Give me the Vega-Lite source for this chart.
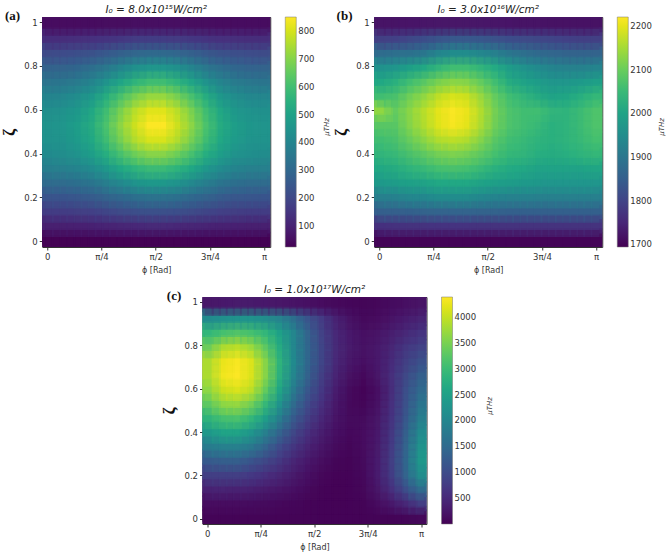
{
"$schema":"https://vega.github.io/schema/vega-lite/v6.json",
"background":"white",
"padding":{"left":0,"top":4,"right":0,"bottom":0},
"config":{"view":{"stroke":"#333","strokeWidth":1},
"axis":{"grid":false,"domain":false,"labelFont":"DejaVu Sans","labelFontSize":8.5,"labelColor":"#333","tickColor":"#333","tickSize":3,"labelPadding":2},
"axisY":{"titleFont":"Liberation Serif","titleFontSize":17,"titleFontWeight":"bold","titleColor":"#111","titlePadding":5},
"axisX":{"titleFont":"DejaVu Sans","titleFontSize":8,"titleFontWeight":"normal","titleColor":"#333","titlePadding":6},
"title":{"font":"DejaVu Sans","fontSize":10.5,"fontStyle":"italic","fontWeight":"normal","color":"#222","offset":-5},
"legend":{"labelFont":"DejaVu Sans","labelFontSize":8.5,"labelColor":"#333","titleFont":"DejaVu Sans","titleFontSize":7,"titleFontStyle":"italic","titleFontWeight":"normal","titleColor":"#333","gradientThickness":11,"gradientStrokeColor":"#777","gradientStrokeWidth":0.5,"titleOrient":"right","offset":15}},
"datasets":{
"a":[
{"f":0.01,"z":0.007,"v":28},{"f":0.075,"z":0.007,"v":28},{"f":0.141,"z":0.007,"v":28},{"f":0.207,"z":0.007,"v":28},{"f":0.272,"z":0.007,"v":28},{"f":0.338,"z":0.007,"v":28},{"f":0.404,"z":0.007,"v":28},{"f":0.469,"z":0.007,"v":28},{"f":0.535,"z":0.007,"v":28},{"f":0.601,"z":0.007,"v":28},{"f":0.666,"z":0.007,"v":28},{"f":0.732,"z":0.007,"v":28},{"f":0.797,"z":0.007,"v":28},{"f":0.863,"z":0.007,"v":28},{"f":0.929,"z":0.007,"v":28},{"f":0.994,"z":0.007,"v":28},
{"f":0.01,"z":0.072,"v":95},{"f":0.075,"z":0.072,"v":96},{"f":0.141,"z":0.072,"v":98},{"f":0.207,"z":0.072,"v":100},{"f":0.272,"z":0.072,"v":106},{"f":0.338,"z":0.072,"v":111},{"f":0.404,"z":0.072,"v":116},{"f":0.469,"z":0.072,"v":120},{"f":0.535,"z":0.072,"v":120},{"f":0.601,"z":0.072,"v":116},{"f":0.666,"z":0.072,"v":111},{"f":0.732,"z":0.072,"v":106},{"f":0.797,"z":0.072,"v":100},{"f":0.863,"z":0.072,"v":98},{"f":0.929,"z":0.072,"v":96},{"f":0.994,"z":0.072,"v":96},
{"f":0.01,"z":0.138,"v":170},{"f":0.075,"z":0.138,"v":172},{"f":0.141,"z":0.138,"v":176},{"f":0.207,"z":0.138,"v":183},{"f":0.272,"z":0.138,"v":195},{"f":0.338,"z":0.138,"v":209},{"f":0.404,"z":0.138,"v":221},{"f":0.469,"z":0.138,"v":229},{"f":0.535,"z":0.138,"v":229},{"f":0.601,"z":0.138,"v":221},{"f":0.666,"z":0.138,"v":209},{"f":0.732,"z":0.138,"v":195},{"f":0.797,"z":0.138,"v":183},{"f":0.863,"z":0.138,"v":176},{"f":0.929,"z":0.138,"v":172},{"f":0.994,"z":0.138,"v":171},
{"f":0.01,"z":0.203,"v":240},{"f":0.075,"z":0.203,"v":243},{"f":0.141,"z":0.203,"v":250},{"f":0.207,"z":0.203,"v":262},{"f":0.272,"z":0.203,"v":282},{"f":0.338,"z":0.203,"v":305},{"f":0.404,"z":0.203,"v":325},{"f":0.469,"z":0.203,"v":338},{"f":0.535,"z":0.203,"v":338},{"f":0.601,"z":0.203,"v":325},{"f":0.666,"z":0.203,"v":305},{"f":0.732,"z":0.203,"v":282},{"f":0.797,"z":0.203,"v":262},{"f":0.863,"z":0.203,"v":250},{"f":0.929,"z":0.203,"v":244},{"f":0.994,"z":0.203,"v":242},
{"f":0.01,"z":0.269,"v":310},{"f":0.075,"z":0.269,"v":315},{"f":0.141,"z":0.269,"v":326},{"f":0.207,"z":0.269,"v":345},{"f":0.272,"z":0.269,"v":377},{"f":0.338,"z":0.269,"v":414},{"f":0.404,"z":0.269,"v":446},{"f":0.469,"z":0.269,"v":467},{"f":0.535,"z":0.269,"v":467},{"f":0.601,"z":0.269,"v":446},{"f":0.666,"z":0.269,"v":414},{"f":0.732,"z":0.269,"v":377},{"f":0.797,"z":0.269,"v":345},{"f":0.863,"z":0.269,"v":326},{"f":0.929,"z":0.269,"v":316},{"f":0.994,"z":0.269,"v":313},
{"f":0.01,"z":0.335,"v":375},{"f":0.075,"z":0.335,"v":381},{"f":0.141,"z":0.335,"v":397},{"f":0.207,"z":0.335,"v":422},{"f":0.272,"z":0.335,"v":465},{"f":0.338,"z":0.335,"v":515},{"f":0.404,"z":0.335,"v":558},{"f":0.469,"z":0.335,"v":586},{"f":0.535,"z":0.335,"v":586},{"f":0.601,"z":0.335,"v":558},{"f":0.666,"z":0.335,"v":515},{"f":0.732,"z":0.335,"v":465},{"f":0.797,"z":0.335,"v":422},{"f":0.863,"z":0.335,"v":397},{"f":0.929,"z":0.335,"v":384},{"f":0.994,"z":0.335,"v":379},
{"f":0.01,"z":0.4,"v":420},{"f":0.075,"z":0.4,"v":429},{"f":0.141,"z":0.4,"v":449},{"f":0.207,"z":0.4,"v":484},{"f":0.272,"z":0.4,"v":542},{"f":0.338,"z":0.4,"v":609},{"f":0.404,"z":0.4,"v":667},{"f":0.469,"z":0.4,"v":704},{"f":0.535,"z":0.4,"v":704},{"f":0.601,"z":0.4,"v":667},{"f":0.666,"z":0.4,"v":609},{"f":0.732,"z":0.4,"v":542},{"f":0.797,"z":0.4,"v":484},{"f":0.863,"z":0.4,"v":449},{"f":0.929,"z":0.4,"v":432},{"f":0.994,"z":0.4,"v":426},
{"f":0.01,"z":0.466,"v":440},{"f":0.075,"z":0.466,"v":451},{"f":0.141,"z":0.466,"v":477},{"f":0.207,"z":0.466,"v":521},{"f":0.272,"z":0.466,"v":595},{"f":0.338,"z":0.466,"v":680},{"f":0.404,"z":0.466,"v":755},{"f":0.469,"z":0.466,"v":803},{"f":0.535,"z":0.466,"v":803},{"f":0.601,"z":0.466,"v":755},{"f":0.666,"z":0.466,"v":680},{"f":0.732,"z":0.466,"v":595},{"f":0.797,"z":0.466,"v":521},{"f":0.863,"z":0.466,"v":477},{"f":0.929,"z":0.466,"v":455},{"f":0.994,"z":0.466,"v":447},
{"f":0.01,"z":0.531,"v":445},{"f":0.075,"z":0.531,"v":457},{"f":0.141,"z":0.531,"v":485},{"f":0.207,"z":0.531,"v":534},{"f":0.272,"z":0.531,"v":615},{"f":0.338,"z":0.531,"v":708},{"f":0.404,"z":0.531,"v":789},{"f":0.469,"z":0.531,"v":850},{"f":0.535,"z":0.531,"v":850},{"f":0.601,"z":0.531,"v":789},{"f":0.666,"z":0.531,"v":708},{"f":0.732,"z":0.531,"v":615},{"f":0.797,"z":0.531,"v":534},{"f":0.863,"z":0.531,"v":485},{"f":0.929,"z":0.531,"v":461},{"f":0.994,"z":0.531,"v":453},
{"f":0.01,"z":0.597,"v":430},{"f":0.075,"z":0.597,"v":442},{"f":0.141,"z":0.597,"v":469},{"f":0.207,"z":0.597,"v":516},{"f":0.272,"z":0.597,"v":594},{"f":0.338,"z":0.597,"v":684},{"f":0.404,"z":0.597,"v":762},{"f":0.469,"z":0.597,"v":812},{"f":0.535,"z":0.597,"v":812},{"f":0.601,"z":0.597,"v":762},{"f":0.666,"z":0.597,"v":684},{"f":0.732,"z":0.597,"v":594},{"f":0.797,"z":0.597,"v":516},{"f":0.863,"z":0.597,"v":469},{"f":0.929,"z":0.597,"v":446},{"f":0.994,"z":0.597,"v":438},
{"f":0.01,"z":0.663,"v":395},{"f":0.075,"z":0.663,"v":405},{"f":0.141,"z":0.663,"v":429},{"f":0.207,"z":0.663,"v":469},{"f":0.272,"z":0.663,"v":536},{"f":0.338,"z":0.663,"v":613},{"f":0.404,"z":0.663,"v":680},{"f":0.469,"z":0.663,"v":723},{"f":0.535,"z":0.663,"v":723},{"f":0.601,"z":0.663,"v":680},{"f":0.666,"z":0.663,"v":613},{"f":0.732,"z":0.663,"v":536},{"f":0.797,"z":0.663,"v":469},{"f":0.863,"z":0.663,"v":429},{"f":0.929,"z":0.663,"v":408},{"f":0.994,"z":0.663,"v":402},
{"f":0.01,"z":0.728,"v":340},{"f":0.075,"z":0.728,"v":348},{"f":0.141,"z":0.728,"v":366},{"f":0.207,"z":0.728,"v":397},{"f":0.272,"z":0.728,"v":449},{"f":0.338,"z":0.728,"v":509},{"f":0.404,"z":0.728,"v":561},{"f":0.469,"z":0.728,"v":595},{"f":0.535,"z":0.728,"v":595},{"f":0.601,"z":0.728,"v":561},{"f":0.666,"z":0.728,"v":509},{"f":0.732,"z":0.728,"v":449},{"f":0.797,"z":0.728,"v":397},{"f":0.863,"z":0.728,"v":366},{"f":0.929,"z":0.728,"v":350},{"f":0.994,"z":0.728,"v":345},
{"f":0.01,"z":0.794,"v":280},{"f":0.075,"z":0.794,"v":285},{"f":0.141,"z":0.794,"v":298},{"f":0.207,"z":0.794,"v":320},{"f":0.272,"z":0.794,"v":356},{"f":0.338,"z":0.794,"v":397},{"f":0.404,"z":0.794,"v":433},{"f":0.469,"z":0.794,"v":456},{"f":0.535,"z":0.794,"v":456},{"f":0.601,"z":0.794,"v":433},{"f":0.666,"z":0.794,"v":397},{"f":0.732,"z":0.794,"v":356},{"f":0.797,"z":0.794,"v":320},{"f":0.863,"z":0.794,"v":298},{"f":0.929,"z":0.794,"v":287},{"f":0.994,"z":0.794,"v":284},
{"f":0.01,"z":0.859,"v":210},{"f":0.075,"z":0.859,"v":213},{"f":0.141,"z":0.859,"v":220},{"f":0.207,"z":0.859,"v":232},{"f":0.272,"z":0.859,"v":252},{"f":0.338,"z":0.859,"v":275},{"f":0.404,"z":0.859,"v":295},{"f":0.469,"z":0.859,"v":308},{"f":0.535,"z":0.859,"v":308},{"f":0.601,"z":0.859,"v":295},{"f":0.666,"z":0.859,"v":275},{"f":0.732,"z":0.859,"v":252},{"f":0.797,"z":0.859,"v":232},{"f":0.863,"z":0.859,"v":220},{"f":0.929,"z":0.859,"v":214},{"f":0.994,"z":0.859,"v":212},
{"f":0.01,"z":0.925,"v":130},{"f":0.075,"z":0.925,"v":131},{"f":0.141,"z":0.925,"v":134},{"f":0.207,"z":0.925,"v":139},{"f":0.272,"z":0.925,"v":147},{"f":0.338,"z":0.925,"v":156},{"f":0.404,"z":0.925,"v":164},{"f":0.469,"z":0.925,"v":169},{"f":0.535,"z":0.925,"v":169},{"f":0.601,"z":0.925,"v":164},{"f":0.666,"z":0.925,"v":156},{"f":0.732,"z":0.925,"v":147},{"f":0.797,"z":0.925,"v":139},{"f":0.863,"z":0.925,"v":134},{"f":0.929,"z":0.925,"v":132},{"f":0.994,"z":0.925,"v":131},
{"f":0.01,"z":0.99,"v":50},{"f":0.075,"z":0.99,"v":50},{"f":0.141,"z":0.99,"v":50},{"f":0.207,"z":0.99,"v":51},{"f":0.272,"z":0.99,"v":52},{"f":0.338,"z":0.99,"v":53},{"f":0.404,"z":0.99,"v":54},{"f":0.469,"z":0.99,"v":55},{"f":0.535,"z":0.99,"v":55},{"f":0.601,"z":0.99,"v":54},{"f":0.666,"z":0.99,"v":53},{"f":0.732,"z":0.99,"v":52},{"f":0.797,"z":0.99,"v":51},{"f":0.863,"z":0.99,"v":50},{"f":0.929,"z":0.99,"v":50},{"f":0.994,"z":0.99,"v":50}
],
"b":[
{"f":0.01,"z":0.007,"v":1700},{"f":0.075,"z":0.007,"v":1700},{"f":0.141,"z":0.007,"v":1700},{"f":0.207,"z":0.007,"v":1700},{"f":0.272,"z":0.007,"v":1700},{"f":0.338,"z":0.007,"v":1700},{"f":0.404,"z":0.007,"v":1700},{"f":0.469,"z":0.007,"v":1700},{"f":0.535,"z":0.007,"v":1700},{"f":0.601,"z":0.007,"v":1700},{"f":0.666,"z":0.007,"v":1700},{"f":0.732,"z":0.007,"v":1700},{"f":0.797,"z":0.007,"v":1700},{"f":0.863,"z":0.007,"v":1700},{"f":0.929,"z":0.007,"v":1700},{"f":0.994,"z":0.007,"v":1700},
{"f":0.01,"z":0.072,"v":1768},{"f":0.075,"z":0.072,"v":1769},{"f":0.141,"z":0.072,"v":1770},{"f":0.207,"z":0.072,"v":1771},{"f":0.272,"z":0.072,"v":1772},{"f":0.338,"z":0.072,"v":1772},{"f":0.404,"z":0.072,"v":1772},{"f":0.469,"z":0.072,"v":1771},{"f":0.535,"z":0.072,"v":1770},{"f":0.601,"z":0.072,"v":1770},{"f":0.666,"z":0.072,"v":1770},{"f":0.732,"z":0.072,"v":1770},{"f":0.797,"z":0.072,"v":1770},{"f":0.863,"z":0.072,"v":1770},{"f":0.929,"z":0.072,"v":1770},{"f":0.994,"z":0.072,"v":1770},
{"f":0.01,"z":0.138,"v":1850},{"f":0.075,"z":0.138,"v":1852},{"f":0.141,"z":0.138,"v":1855},{"f":0.207,"z":0.138,"v":1860},{"f":0.272,"z":0.138,"v":1862},{"f":0.338,"z":0.138,"v":1862},{"f":0.404,"z":0.138,"v":1862},{"f":0.469,"z":0.138,"v":1860},{"f":0.535,"z":0.138,"v":1858},{"f":0.601,"z":0.138,"v":1855},{"f":0.666,"z":0.138,"v":1855},{"f":0.732,"z":0.138,"v":1855},{"f":0.797,"z":0.138,"v":1855},{"f":0.863,"z":0.138,"v":1855},{"f":0.929,"z":0.138,"v":1855},{"f":0.994,"z":0.138,"v":1855},
{"f":0.01,"z":0.203,"v":1920},{"f":0.075,"z":0.203,"v":1925},{"f":0.141,"z":0.203,"v":1935},{"f":0.207,"z":0.203,"v":1940},{"f":0.272,"z":0.203,"v":1950},{"f":0.338,"z":0.203,"v":1950},{"f":0.404,"z":0.203,"v":1950},{"f":0.469,"z":0.203,"v":1940},{"f":0.535,"z":0.203,"v":1930},{"f":0.601,"z":0.203,"v":1925},{"f":0.666,"z":0.203,"v":1925},{"f":0.732,"z":0.203,"v":1920},{"f":0.797,"z":0.203,"v":1920},{"f":0.863,"z":0.203,"v":1920},{"f":0.929,"z":0.203,"v":1920},{"f":0.994,"z":0.203,"v":1920},
{"f":0.01,"z":0.269,"v":1980},{"f":0.075,"z":0.269,"v":1985},{"f":0.141,"z":0.269,"v":1995},{"f":0.207,"z":0.269,"v":2000},{"f":0.272,"z":0.269,"v":2010},{"f":0.338,"z":0.269,"v":2010},{"f":0.404,"z":0.269,"v":2010},{"f":0.469,"z":0.269,"v":2000},{"f":0.535,"z":0.269,"v":1990},{"f":0.601,"z":0.269,"v":1985},{"f":0.666,"z":0.269,"v":1980},{"f":0.732,"z":0.269,"v":1975},{"f":0.797,"z":0.269,"v":1970},{"f":0.863,"z":0.269,"v":1970},{"f":0.929,"z":0.269,"v":1970},{"f":0.994,"z":0.269,"v":1970},
{"f":0.01,"z":0.335,"v":2010},{"f":0.075,"z":0.335,"v":2020},{"f":0.141,"z":0.335,"v":2035},{"f":0.207,"z":0.335,"v":2050},{"f":0.272,"z":0.335,"v":2065},{"f":0.338,"z":0.335,"v":2070},{"f":0.404,"z":0.335,"v":2065},{"f":0.469,"z":0.335,"v":2050},{"f":0.535,"z":0.335,"v":2030},{"f":0.601,"z":0.335,"v":2015},{"f":0.666,"z":0.335,"v":2010},{"f":0.732,"z":0.335,"v":2000},{"f":0.797,"z":0.335,"v":2000},{"f":0.863,"z":0.335,"v":2000},{"f":0.929,"z":0.335,"v":2000},{"f":0.994,"z":0.335,"v":2005},
{"f":0.01,"z":0.4,"v":2040},{"f":0.075,"z":0.4,"v":2050},{"f":0.141,"z":0.4,"v":2070},{"f":0.207,"z":0.4,"v":2090},{"f":0.272,"z":0.4,"v":2110},{"f":0.338,"z":0.4,"v":2120},{"f":0.404,"z":0.4,"v":2110},{"f":0.469,"z":0.4,"v":2090},{"f":0.535,"z":0.4,"v":2065},{"f":0.601,"z":0.4,"v":2045},{"f":0.666,"z":0.4,"v":2040},{"f":0.732,"z":0.4,"v":2025},{"f":0.797,"z":0.4,"v":2020},{"f":0.863,"z":0.4,"v":2025},{"f":0.929,"z":0.4,"v":2035},{"f":0.994,"z":0.4,"v":2045},
{"f":0.01,"z":0.466,"v":2060},{"f":0.075,"z":0.466,"v":2070},{"f":0.141,"z":0.466,"v":2100},{"f":0.207,"z":0.466,"v":2130},{"f":0.272,"z":0.466,"v":2160},{"f":0.338,"z":0.466,"v":2170},{"f":0.404,"z":0.466,"v":2160},{"f":0.469,"z":0.466,"v":2125},{"f":0.535,"z":0.466,"v":2085},{"f":0.601,"z":0.466,"v":2060},{"f":0.666,"z":0.466,"v":2050},{"f":0.732,"z":0.466,"v":2035},{"f":0.797,"z":0.466,"v":2030},{"f":0.863,"z":0.466,"v":2035},{"f":0.929,"z":0.466,"v":2050},{"f":0.994,"z":0.466,"v":2065},
{"f":0.01,"z":0.531,"v":2085},{"f":0.075,"z":0.531,"v":2085},{"f":0.141,"z":0.531,"v":2125},{"f":0.207,"z":0.531,"v":2160},{"f":0.272,"z":0.531,"v":2195},{"f":0.338,"z":0.531,"v":2215},{"f":0.404,"z":0.531,"v":2200},{"f":0.469,"z":0.531,"v":2155},{"f":0.535,"z":0.531,"v":2105},{"f":0.601,"z":0.531,"v":2075},{"f":0.666,"z":0.531,"v":2060},{"f":0.732,"z":0.531,"v":2050},{"f":0.797,"z":0.531,"v":2030},{"f":0.863,"z":0.531,"v":2035},{"f":0.929,"z":0.531,"v":2055},{"f":0.994,"z":0.531,"v":2075},
{"f":0.01,"z":0.597,"v":2135},{"f":0.075,"z":0.597,"v":2095},{"f":0.141,"z":0.597,"v":2130},{"f":0.207,"z":0.597,"v":2165},{"f":0.272,"z":0.597,"v":2200},{"f":0.338,"z":0.597,"v":2218},{"f":0.404,"z":0.597,"v":2205},{"f":0.469,"z":0.597,"v":2160},{"f":0.535,"z":0.597,"v":2110},{"f":0.601,"z":0.597,"v":2075},{"f":0.666,"z":0.597,"v":2060},{"f":0.732,"z":0.597,"v":2060},{"f":0.797,"z":0.597,"v":2040},{"f":0.863,"z":0.597,"v":2035},{"f":0.929,"z":0.597,"v":2055},{"f":0.994,"z":0.597,"v":2075},
{"f":0.01,"z":0.663,"v":2060},{"f":0.075,"z":0.663,"v":2070},{"f":0.141,"z":0.663,"v":2105},{"f":0.207,"z":0.663,"v":2135},{"f":0.272,"z":0.663,"v":2170},{"f":0.338,"z":0.663,"v":2190},{"f":0.404,"z":0.663,"v":2180},{"f":0.469,"z":0.663,"v":2140},{"f":0.535,"z":0.663,"v":2095},{"f":0.601,"z":0.663,"v":2060},{"f":0.666,"z":0.663,"v":2040},{"f":0.732,"z":0.663,"v":2020},{"f":0.797,"z":0.663,"v":2000},{"f":0.863,"z":0.663,"v":2005},{"f":0.929,"z":0.663,"v":2025},{"f":0.994,"z":0.663,"v":2045},
{"f":0.01,"z":0.728,"v":2010},{"f":0.075,"z":0.728,"v":2030},{"f":0.141,"z":0.728,"v":2060},{"f":0.207,"z":0.728,"v":2085},{"f":0.272,"z":0.728,"v":2115},{"f":0.338,"z":0.728,"v":2130},{"f":0.404,"z":0.728,"v":2125},{"f":0.469,"z":0.728,"v":2095},{"f":0.535,"z":0.728,"v":2060},{"f":0.601,"z":0.728,"v":2020},{"f":0.666,"z":0.728,"v":2000},{"f":0.732,"z":0.728,"v":1985},{"f":0.797,"z":0.728,"v":1970},{"f":0.863,"z":0.728,"v":1970},{"f":0.929,"z":0.728,"v":1980},{"f":0.994,"z":0.728,"v":1990},
{"f":0.01,"z":0.794,"v":1960},{"f":0.075,"z":0.794,"v":1970},{"f":0.141,"z":0.794,"v":1990},{"f":0.207,"z":0.794,"v":2010},{"f":0.272,"z":0.794,"v":2040},{"f":0.338,"z":0.794,"v":2060},{"f":0.404,"z":0.794,"v":2060},{"f":0.469,"z":0.794,"v":2040},{"f":0.535,"z":0.794,"v":2015},{"f":0.601,"z":0.794,"v":1985},{"f":0.666,"z":0.794,"v":1960},{"f":0.732,"z":0.794,"v":1945},{"f":0.797,"z":0.794,"v":1930},{"f":0.863,"z":0.794,"v":1925},{"f":0.929,"z":0.794,"v":1925},{"f":0.994,"z":0.794,"v":1930},
{"f":0.01,"z":0.859,"v":1880},{"f":0.075,"z":0.859,"v":1885},{"f":0.141,"z":0.859,"v":1890},{"f":0.207,"z":0.859,"v":1900},{"f":0.272,"z":0.859,"v":1930},{"f":0.338,"z":0.859,"v":1950},{"f":0.404,"z":0.859,"v":1950},{"f":0.469,"z":0.859,"v":1935},{"f":0.535,"z":0.859,"v":1920},{"f":0.601,"z":0.859,"v":1900},{"f":0.666,"z":0.859,"v":1885},{"f":0.732,"z":0.859,"v":1875},{"f":0.797,"z":0.859,"v":1865},{"f":0.863,"z":0.859,"v":1860},{"f":0.929,"z":0.859,"v":1860},{"f":0.994,"z":0.859,"v":1860},
{"f":0.01,"z":0.925,"v":1790},{"f":0.075,"z":0.925,"v":1795},{"f":0.141,"z":0.925,"v":1805},{"f":0.207,"z":0.925,"v":1815},{"f":0.272,"z":0.925,"v":1830},{"f":0.338,"z":0.925,"v":1840},{"f":0.404,"z":0.925,"v":1840},{"f":0.469,"z":0.925,"v":1835},{"f":0.535,"z":0.925,"v":1825},{"f":0.601,"z":0.925,"v":1815},{"f":0.666,"z":0.925,"v":1810},{"f":0.732,"z":0.925,"v":1805},{"f":0.797,"z":0.925,"v":1800},{"f":0.863,"z":0.925,"v":1795},{"f":0.929,"z":0.925,"v":1790},{"f":0.994,"z":0.925,"v":1790},
{"f":0.01,"z":0.99,"v":1720},{"f":0.075,"z":0.99,"v":1720},{"f":0.141,"z":0.99,"v":1722},{"f":0.207,"z":0.99,"v":1723},{"f":0.272,"z":0.99,"v":1725},{"f":0.338,"z":0.99,"v":1725},{"f":0.404,"z":0.99,"v":1725},{"f":0.469,"z":0.99,"v":1725},{"f":0.535,"z":0.99,"v":1723},{"f":0.601,"z":0.99,"v":1722},{"f":0.666,"z":0.99,"v":1720},{"f":0.732,"z":0.99,"v":1720},{"f":0.797,"z":0.99,"v":1718},{"f":0.863,"z":0.99,"v":1718},{"f":0.929,"z":0.99,"v":1718},{"f":0.994,"z":0.99,"v":1718}
],
"c":[
{"f":0.01,"z":0.007,"v":40},{"f":0.075,"z":0.007,"v":40},{"f":0.141,"z":0.007,"v":40},{"f":0.207,"z":0.007,"v":40},{"f":0.272,"z":0.007,"v":40},{"f":0.338,"z":0.007,"v":40},{"f":0.404,"z":0.007,"v":40},{"f":0.469,"z":0.007,"v":40},{"f":0.535,"z":0.007,"v":30},{"f":0.601,"z":0.007,"v":30},{"f":0.666,"z":0.007,"v":30},{"f":0.732,"z":0.007,"v":30},{"f":0.797,"z":0.007,"v":40},{"f":0.863,"z":0.007,"v":50},{"f":0.929,"z":0.007,"v":60},{"f":0.994,"z":0.007,"v":80},
{"f":0.01,"z":0.072,"v":130},{"f":0.075,"z":0.072,"v":140},{"f":0.141,"z":0.072,"v":130},{"f":0.207,"z":0.072,"v":120},{"f":0.272,"z":0.072,"v":110},{"f":0.338,"z":0.072,"v":90},{"f":0.404,"z":0.072,"v":70},{"f":0.469,"z":0.072,"v":50},{"f":0.535,"z":0.072,"v":30},{"f":0.601,"z":0.072,"v":25},{"f":0.666,"z":0.072,"v":30},{"f":0.732,"z":0.072,"v":50},{"f":0.797,"z":0.072,"v":130},{"f":0.863,"z":0.072,"v":280},{"f":0.929,"z":0.072,"v":500},{"f":0.994,"z":0.072,"v":800},
{"f":0.01,"z":0.138,"v":400},{"f":0.075,"z":0.138,"v":420},{"f":0.141,"z":0.138,"v":400},{"f":0.207,"z":0.138,"v":370},{"f":0.272,"z":0.138,"v":310},{"f":0.338,"z":0.138,"v":240},{"f":0.404,"z":0.138,"v":170},{"f":0.469,"z":0.138,"v":100},{"f":0.535,"z":0.138,"v":50},{"f":0.601,"z":0.138,"v":25},{"f":0.666,"z":0.138,"v":30},{"f":0.732,"z":0.138,"v":80},{"f":0.797,"z":0.138,"v":250},{"f":0.863,"z":0.138,"v":600},{"f":0.929,"z":0.138,"v":1050},{"f":0.994,"z":0.138,"v":1550},
{"f":0.01,"z":0.203,"v":800},{"f":0.075,"z":0.203,"v":820},{"f":0.141,"z":0.203,"v":800},{"f":0.207,"z":0.203,"v":720},{"f":0.272,"z":0.203,"v":600},{"f":0.338,"z":0.203,"v":450},{"f":0.404,"z":0.203,"v":300},{"f":0.469,"z":0.203,"v":170},{"f":0.535,"z":0.203,"v":80},{"f":0.601,"z":0.203,"v":30},{"f":0.666,"z":0.203,"v":30},{"f":0.732,"z":0.203,"v":90},{"f":0.797,"z":0.203,"v":320},{"f":0.863,"z":0.203,"v":780},{"f":0.929,"z":0.203,"v":1400},{"f":0.994,"z":0.203,"v":2150},
{"f":0.01,"z":0.269,"v":1250},{"f":0.075,"z":0.269,"v":1300},{"f":0.141,"z":0.269,"v":1300},{"f":0.207,"z":0.269,"v":1150},{"f":0.272,"z":0.269,"v":950},{"f":0.338,"z":0.269,"v":700},{"f":0.404,"z":0.269,"v":460},{"f":0.469,"z":0.269,"v":280},{"f":0.535,"z":0.269,"v":150},{"f":0.601,"z":0.269,"v":60},{"f":0.666,"z":0.269,"v":40},{"f":0.732,"z":0.269,"v":110},{"f":0.797,"z":0.269,"v":320},{"f":0.863,"z":0.269,"v":800},{"f":0.929,"z":0.269,"v":1450},{"f":0.994,"z":0.269,"v":2350},
{"f":0.01,"z":0.335,"v":1800},{"f":0.075,"z":0.335,"v":1900},{"f":0.141,"z":0.335,"v":1900},{"f":0.207,"z":0.335,"v":1750},{"f":0.272,"z":0.335,"v":1400},{"f":0.338,"z":0.335,"v":1000},{"f":0.404,"z":0.335,"v":680},{"f":0.469,"z":0.335,"v":420},{"f":0.535,"z":0.335,"v":240},{"f":0.601,"z":0.335,"v":110},{"f":0.666,"z":0.335,"v":60},{"f":0.732,"z":0.335,"v":130},{"f":0.797,"z":0.335,"v":300},{"f":0.863,"z":0.335,"v":750},{"f":0.929,"z":0.335,"v":1400},{"f":0.994,"z":0.335,"v":2250},
{"f":0.01,"z":0.4,"v":2350},{"f":0.075,"z":0.4,"v":2550},{"f":0.141,"z":0.4,"v":2550},{"f":0.207,"z":0.4,"v":2300},{"f":0.272,"z":0.4,"v":1900},{"f":0.338,"z":0.4,"v":1400},{"f":0.404,"z":0.4,"v":950},{"f":0.469,"z":0.4,"v":600},{"f":0.535,"z":0.4,"v":340},{"f":0.601,"z":0.4,"v":170},{"f":0.666,"z":0.4,"v":90},{"f":0.732,"z":0.4,"v":130},{"f":0.797,"z":0.4,"v":280},{"f":0.863,"z":0.4,"v":700},{"f":0.929,"z":0.4,"v":1300},{"f":0.994,"z":0.4,"v":2100},
{"f":0.01,"z":0.466,"v":2850},{"f":0.075,"z":0.466,"v":3100},{"f":0.141,"z":0.466,"v":3150},{"f":0.207,"z":0.466,"v":2900},{"f":0.272,"z":0.466,"v":2450},{"f":0.338,"z":0.466,"v":1850},{"f":0.404,"z":0.466,"v":1250},{"f":0.469,"z":0.466,"v":800},{"f":0.535,"z":0.466,"v":470},{"f":0.601,"z":0.466,"v":230},{"f":0.666,"z":0.466,"v":110},{"f":0.732,"z":0.466,"v":110},{"f":0.797,"z":0.466,"v":250},{"f":0.863,"z":0.466,"v":650},{"f":0.929,"z":0.466,"v":1200},{"f":0.994,"z":0.466,"v":1850},
{"f":0.01,"z":0.531,"v":3300},{"f":0.075,"z":0.531,"v":3650},{"f":0.141,"z":0.531,"v":3700},{"f":0.207,"z":0.531,"v":3450},{"f":0.272,"z":0.531,"v":2950},{"f":0.338,"z":0.531,"v":2250},{"f":0.404,"z":0.531,"v":1550},{"f":0.469,"z":0.531,"v":1000},{"f":0.535,"z":0.531,"v":600},{"f":0.601,"z":0.531,"v":270},{"f":0.666,"z":0.531,"v":100},{"f":0.732,"z":0.531,"v":60},{"f":0.797,"z":0.531,"v":200},{"f":0.863,"z":0.531,"v":600},{"f":0.929,"z":0.531,"v":1100},{"f":0.994,"z":0.531,"v":1700},
{"f":0.01,"z":0.597,"v":3650},{"f":0.075,"z":0.597,"v":4050},{"f":0.141,"z":0.597,"v":4150},{"f":0.207,"z":0.597,"v":3950},{"f":0.272,"z":0.597,"v":3350},{"f":0.338,"z":0.597,"v":2600},{"f":0.404,"z":0.597,"v":1800},{"f":0.469,"z":0.597,"v":1200},{"f":0.535,"z":0.597,"v":720},{"f":0.601,"z":0.597,"v":330},{"f":0.666,"z":0.597,"v":110},{"f":0.732,"z":0.597,"v":30},{"f":0.797,"z":0.597,"v":170},{"f":0.863,"z":0.597,"v":570},{"f":0.929,"z":0.597,"v":1050},{"f":0.994,"z":0.597,"v":1500},
{"f":0.01,"z":0.663,"v":3850},{"f":0.075,"z":0.663,"v":4300},{"f":0.141,"z":0.663,"v":4380},{"f":0.207,"z":0.663,"v":4150},{"f":0.272,"z":0.663,"v":3600},{"f":0.338,"z":0.663,"v":2800},{"f":0.404,"z":0.663,"v":2000},{"f":0.469,"z":0.663,"v":1350},{"f":0.535,"z":0.663,"v":820},{"f":0.601,"z":0.663,"v":420},{"f":0.666,"z":0.663,"v":190},{"f":0.732,"z":0.663,"v":90},{"f":0.797,"z":0.663,"v":250},{"f":0.863,"z":0.663,"v":580},{"f":0.929,"z":0.663,"v":950},{"f":0.994,"z":0.663,"v":1300},
{"f":0.01,"z":0.728,"v":3850},{"f":0.075,"z":0.728,"v":4250},{"f":0.141,"z":0.728,"v":4350},{"f":0.207,"z":0.728,"v":4150},{"f":0.272,"z":0.728,"v":3600},{"f":0.338,"z":0.728,"v":2850},{"f":0.404,"z":0.728,"v":2100},{"f":0.469,"z":0.728,"v":1450},{"f":0.535,"z":0.728,"v":900},{"f":0.601,"z":0.728,"v":500},{"f":0.666,"z":0.728,"v":270},{"f":0.732,"z":0.728,"v":170},{"f":0.797,"z":0.728,"v":280},{"f":0.863,"z":0.728,"v":530},{"f":0.929,"z":0.728,"v":820},{"f":0.994,"z":0.728,"v":1080},
{"f":0.01,"z":0.794,"v":3400},{"f":0.075,"z":0.794,"v":3850},{"f":0.141,"z":0.794,"v":3950},{"f":0.207,"z":0.794,"v":3750},{"f":0.272,"z":0.794,"v":3300},{"f":0.338,"z":0.794,"v":2700},{"f":0.404,"z":0.794,"v":2050},{"f":0.469,"z":0.794,"v":1450},{"f":0.535,"z":0.794,"v":900},{"f":0.601,"z":0.794,"v":520},{"f":0.666,"z":0.794,"v":300},{"f":0.732,"z":0.794,"v":200},{"f":0.797,"z":0.794,"v":280},{"f":0.863,"z":0.794,"v":450},{"f":0.929,"z":0.794,"v":680},{"f":0.994,"z":0.794,"v":850},
{"f":0.01,"z":0.859,"v":2900},{"f":0.075,"z":0.859,"v":3100},{"f":0.141,"z":0.859,"v":3200},{"f":0.207,"z":0.859,"v":3100},{"f":0.272,"z":0.859,"v":2900},{"f":0.338,"z":0.859,"v":2500},{"f":0.404,"z":0.859,"v":2000},{"f":0.469,"z":0.859,"v":1400},{"f":0.535,"z":0.859,"v":850},{"f":0.601,"z":0.859,"v":500},{"f":0.666,"z":0.859,"v":280},{"f":0.732,"z":0.859,"v":170},{"f":0.797,"z":0.859,"v":230},{"f":0.863,"z":0.859,"v":350},{"f":0.929,"z":0.859,"v":500},{"f":0.994,"z":0.859,"v":650},
{"f":0.01,"z":0.925,"v":2100},{"f":0.075,"z":0.925,"v":2200},{"f":0.141,"z":0.925,"v":2250},{"f":0.207,"z":0.925,"v":2250},{"f":0.272,"z":0.925,"v":2150},{"f":0.338,"z":0.925,"v":1950},{"f":0.404,"z":0.925,"v":1600},{"f":0.469,"z":0.925,"v":1150},{"f":0.535,"z":0.925,"v":750},{"f":0.601,"z":0.925,"v":400},{"f":0.666,"z":0.925,"v":200},{"f":0.732,"z":0.925,"v":100},{"f":0.797,"z":0.925,"v":140},{"f":0.863,"z":0.925,"v":220},{"f":0.929,"z":0.925,"v":320},{"f":0.994,"z":0.925,"v":420},
{"f":0.01,"z":0.99,"v":250},{"f":0.075,"z":0.99,"v":280},{"f":0.141,"z":0.99,"v":300},{"f":0.207,"z":0.99,"v":300},{"f":0.272,"z":0.99,"v":280},{"f":0.338,"z":0.99,"v":250},{"f":0.404,"z":0.99,"v":220},{"f":0.469,"z":0.99,"v":180},{"f":0.535,"z":0.99,"v":140},{"f":0.601,"z":0.99,"v":100},{"f":0.666,"z":0.99,"v":70},{"f":0.732,"z":0.99,"v":60},{"f":0.797,"z":0.99,"v":80},{"f":0.863,"z":0.99,"v":120},{"f":0.929,"z":0.99,"v":170},{"f":0.994,"z":0.99,"v":220}
]
},
"resolve":{"scale":{"color":"independent"}},
"vconcat":[
{"hconcat":[
{"width":228,"height":230,"title":"I₀ = 8.0x10¹⁵W/cm²","data":{"name":"a"},
"encoding":{"x":{"field":"f","type":"quantitative","scale":{"domain":[-0.023,1.028],"nice":false,"zero":false},"axis":{"values":[0,0.25,0.5,0.75,1],"title":"ϕ [Rad]","labelExpr":"datum.value==0?'0':datum.value==0.25?'π/4':datum.value==0.5?'π/2':datum.value==0.75?'3π/4':'π'"}},
"y":{"field":"z","type":"quantitative","scale":{"domain":[-0.026,1.023],"nice":false,"zero":false},"axis":{"values":[0,0.2,0.4,0.6,0.8,1],"title":"ζ","format":"~g"}},
"color":{"field":"v","type":"quantitative","scale":{"scheme":"viridis","domain":[25,850]},"legend":{"title":"μTHz","format":"d","gradientLength":230,"values":[100,200,300,400,500,600,700,800],"encode":{"title":{"update":{"angle":{"value":-90},"dx":{"value":5},"dy":{"value":11}}}}}}},
"layer":[
{"mark":{"type":"rect","width":16,"height":16,"clip":true}},
{"mark":{"type":"rect","width":16,"height":16,"clip":true,"xOffset":-3.6,"yOffset":-3.6}},
{"mark":{"type":"rect","width":16,"height":16,"clip":true,"xOffset":3.6,"yOffset":-3.6,"opacity":0.5}},
{"mark":{"type":"rect","width":16,"height":16,"clip":true,"xOffset":-3.6,"yOffset":3.6,"opacity":0.333}},
{"mark":{"type":"rect","width":16,"height":16,"clip":true,"xOffset":3.6,"yOffset":3.6,"opacity":0.25}},
{"data":{"values":[{"f":-0.16,"z":1.027,"t":"(a)"}]},"mark":{"type":"text","font":"Liberation Serif","fontWeight":"bold","fontSize":13},"encoding":{"color":{"value":"#111"},"text":{"field":"t"}}}
]},
{"width":228,"height":230,"title":"I₀ = 3.0x10¹⁶W/cm²","data":{"name":"b"},
"encoding":{"x":{"field":"f","type":"quantitative","scale":{"domain":[-0.023,1.028],"nice":false,"zero":false},"axis":{"values":[0,0.25,0.5,0.75,1],"title":"ϕ [Rad]","labelExpr":"datum.value==0?'0':datum.value==0.25?'π/4':datum.value==0.5?'π/2':datum.value==0.75?'3π/4':'π'"}},
"y":{"field":"z","type":"quantitative","scale":{"domain":[-0.026,1.023],"nice":false,"zero":false},"axis":{"values":[0,0.2,0.4,0.6,0.8,1],"title":"ζ","format":"~g"}},
"color":{"field":"v","type":"quantitative","scale":{"scheme":"viridis","domain":[1694,2221]},"legend":{"title":"μTHz","format":"d","gradientLength":230,"values":[1700,1800,1900,2000,2100,2200],"encode":{"title":{"update":{"angle":{"value":-90},"dx":{"value":5},"dy":{"value":8}}}}}}},
"layer":[
{"mark":{"type":"rect","width":16,"height":16,"clip":true}},
{"mark":{"type":"rect","width":16,"height":16,"clip":true,"xOffset":-3.6,"yOffset":-3.6}},
{"mark":{"type":"rect","width":16,"height":16,"clip":true,"xOffset":3.6,"yOffset":-3.6,"opacity":0.5}},
{"mark":{"type":"rect","width":16,"height":16,"clip":true,"xOffset":-3.6,"yOffset":3.6,"opacity":0.333}},
{"mark":{"type":"rect","width":16,"height":16,"clip":true,"xOffset":3.6,"yOffset":3.6,"opacity":0.25}},
{"data":{"values":[{"f":-0.16,"z":1.027,"t":"(b)"}]},"mark":{"type":"text","font":"Liberation Serif","fontWeight":"bold","fontSize":13},"encoding":{"color":{"value":"#111"},"text":{"field":"t"}}}
]}
],"spacing":0,"resolve":{"scale":{"color":"independent"}}},
{"hconcat":[
{"width":224,"height":227,"title":"I₀ = 1.0x10¹⁷W/cm²","data":{"name":"c"},
"encoding":{"x":{"field":"f","type":"quantitative","scale":{"domain":[-0.022,1.025],"nice":false,"zero":false},"axis":{"values":[0,0.25,0.5,0.75,1],"title":"ϕ [Rad]","labelExpr":"datum.value==0?'0':datum.value==0.25?'π/4':datum.value==0.5?'π/2':datum.value==0.75?'3π/4':'π'"}},
"y":{"field":"z","type":"quantitative","scale":{"domain":[-0.024,1.023],"nice":false,"zero":false},"axis":{"values":[0,0.2,0.4,0.6,0.8,1],"title":"ζ","format":"~g"}},
"color":{"field":"v","type":"quantitative","scale":{"scheme":"viridis","domain":[0,4386]},"legend":{"title":"μTHz","format":"d","gradientLength":227,"values":[500,1000,1500,2000,2500,3000,3500,4000],"encode":{"title":{"update":{"angle":{"value":-90},"dx":{"value":5},"dy":{"value":11}}}}}}},
"layer":[
{"mark":{"type":"rect","width":16,"height":16,"clip":true}},
{"mark":{"type":"rect","width":16,"height":16,"clip":true,"xOffset":-3.6,"yOffset":-3.6}},
{"mark":{"type":"rect","width":16,"height":16,"clip":true,"xOffset":3.6,"yOffset":-3.6,"opacity":0.5}},
{"mark":{"type":"rect","width":16,"height":16,"clip":true,"xOffset":-3.6,"yOffset":3.6,"opacity":0.333}},
{"mark":{"type":"rect","width":16,"height":16,"clip":true,"xOffset":3.6,"yOffset":3.6,"opacity":0.25}},
{"data":{"values":[{"f":-0.155,"z":1.027,"t":"(c)"}]},"mark":{"type":"text","font":"Liberation Serif","fontWeight":"bold","fontSize":13},"encoding":{"color":{"value":"#111"},"text":{"field":"t"}}}
]},
{"width":12,"height":1,"view":{"stroke":null},"data":{"values":[]},"mark":"rect","encoding":{}}
],"spacing":0,"resolve":{"scale":{"color":"independent"}}}
],
"center":true,"spacing":9
}
